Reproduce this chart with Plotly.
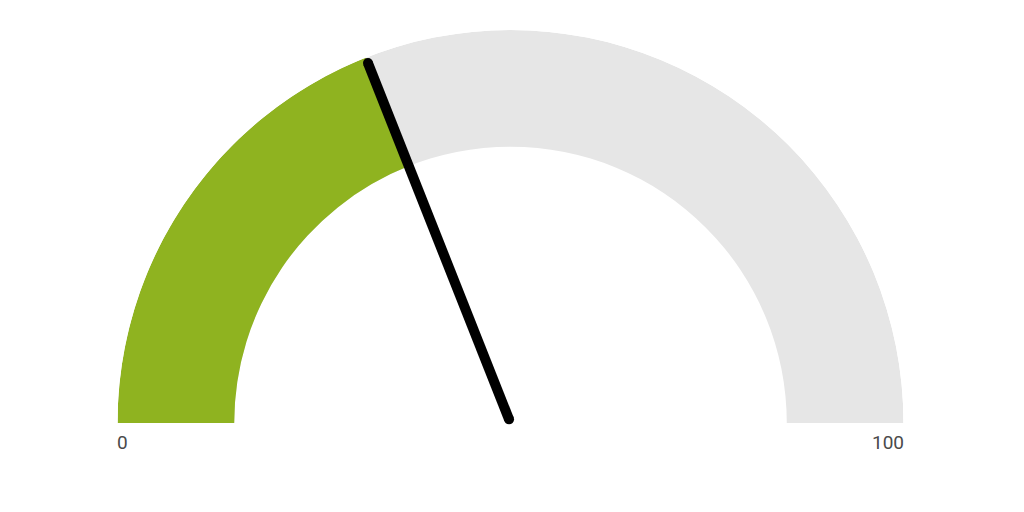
import plotly.graph_objects as go

# gauge data
gauge_min = 0
gauge_max = 100
value = 38
hole_ratio = 0.703
tick_labels = ["0", "100"]

FILL_COLOR = '#8fb320'
TRACK_COLOR = '#e6e6e6'
NEEDLE_COLOR = '#000000'


def to_deg(v):
    # 0 -> left end, 100 -> right end of the half circle
    return (v - gauge_min) / (gauge_max - gauge_min) * 180.0


fig = go.Figure()

# background track
fig.add_trace(go.Barpolar(
    r=[1 - hole_ratio], base=[hole_ratio],
    theta=[to_deg(gauge_max) / 2], width=[to_deg(gauge_max)],
    marker=dict(color=TRACK_COLOR, line=dict(width=0)),
    hoverinfo='skip', showlegend=False))

# value fill
fig.add_trace(go.Barpolar(
    r=[1 - hole_ratio], base=[hole_ratio],
    theta=[to_deg(value) / 2], width=[to_deg(value)],
    marker=dict(color=FILL_COLOR, line=dict(width=0)),
    hoverinfo='skip', showlegend=False))

# needle
fig.add_trace(go.Scatterpolar(
    r=[0.01, 0.985], theta=[to_deg(value), to_deg(value)],
    mode='lines+markers',
    line=dict(color=NEEDLE_COLOR, width=10),
    marker=dict(color=NEEDLE_COLOR, size=10),
    hoverinfo='skip', showlegend=False))

# page body adds an 8px offset, margins compensate for it
fig.update_layout(
    width=1024, height=512,
    margin=dict(l=109, r=128, t=22, b=97),
    paper_bgcolor='white',
    showlegend=False,
    polar=dict(
        sector=[0, 180],
        bgcolor='rgba(0,0,0,0)',
        domain=dict(x=[0, 1], y=[0, 1]),
        radialaxis=dict(range=[0, 1], visible=False, showgrid=False),
        angularaxis=dict(rotation=180, direction='clockwise', visible=False,
                         showgrid=False, showline=False, showticklabels=False),
        barmode='overlay',
    ),
    font=dict(family='Roboto', size=19, color='#4a4a4a'),
)

# end labels under the arc
for txt, xpos, anchor, dx in zip(tick_labels, [0, 1], ['left', 'right'], [-2, 2]):
    fig.add_annotation(text=txt, x=xpos, y=0, xref='paper', yref='paper',
                       xanchor=anchor, yanchor='top', yshift=-6, xshift=dx,
                       showarrow=False, font=dict(size=19, color='#4a4a4a'))

fig.write_html("out.html")
